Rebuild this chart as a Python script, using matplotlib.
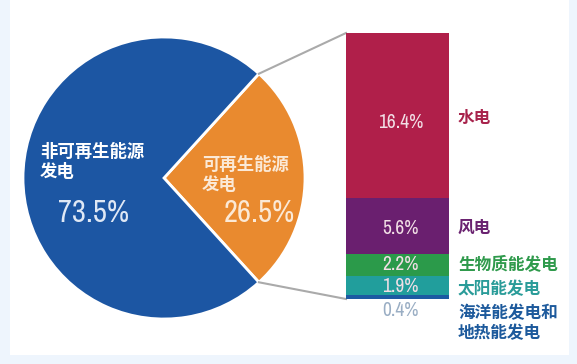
import matplotlib.pyplot as plt
from matplotlib.patches import Rectangle
import numpy as np

plt.rcParams['font.family'] = ['Noto Sans CJK SC', 'DejaVu Sans']

# main pie: renewable vs non-renewable
pie_labels = ['可再生能源\n发电', '非可再生能源\n发电']
pie_values = [26.5, 73.5]
pie_colors = ['#e98a2f', '#1c56a3']

# breakdown of renewable share
bar_labels = ['水电', '风电', '生物质能发电', '太阳能发电', '海洋能发电和\n地热能发电']
bar_values = [16.4, 5.6, 2.2, 1.9, 0.4]
bar_colors = ['#b01f4a', '#6a1f6f', '#2b9a4a', '#219e9c', '#1c5aa2']
label_colors = ['#a8234c', '#6a2270', '#2f9a4c', '#2a9c99', '#1d5a9c']

fig = plt.figure(figsize=(5.77, 3.64), dpi=100)
fig.patch.set_facecolor('#eef5fd')
ax = fig.add_axes([0, 0, 1, 1])
ax.add_patch(Rectangle((10, 0), 559, 355, facecolor='white', edgecolor='none', zorder=0))

# pie, orange slice centred on the right
cx, cy, r = 164, 178, 141
half = pie_values[0] / 100 * 360 / 2
ax.pie(pie_values, colors=pie_colors, startangle=-half, center=(cx, cy), radius=r,
       wedgeprops=dict(edgecolor='white', linewidth=2), frame=True)
ax.set_xlim(0, 577)
ax.set_ylim(364, 0)
ax.set_aspect('equal')
ax.axis('off')

# stacked bar
bx, bw, btop = 346, 103, 33
scale = 266 / sum(bar_values)
tops = btop + np.concatenate([[0], np.cumsum(bar_values)[:-1]]) * scale
heights = np.array(bar_values) * scale
ax.bar(bx, heights, bottom=tops, width=bw, align='edge', color=bar_colors, zorder=2)

# connector lines
ang = np.radians(half)
ax.plot([cx + r * np.cos(ang), bx], [cy - r * np.sin(ang), btop], color='#aaaaaa', lw=1.5, zorder=1)
ax.plot([cx + r * np.cos(ang), bx], [cy + r * np.sin(ang), btop + heights.sum()], color='#aaaaaa', lw=1.5, zorder=1)

num_font = ['Archivo Narrow', 'DejaVu Sans']
# bar value and category labels
label_y = [118, 228, 264, 289, 304]
num_y = [122, 228, 265, 287, 310]
for i, v in enumerate(bar_values):
    col = '#f2dfe6' if i < 4 else '#9aaec4'
    ax.text(bx + bw / 2 + 3, num_y[i], f'{v}%', ha='center', va='center', fontsize=14,
            color=col, family=num_font, zorder=3)
    ax.text(458, label_y[i], bar_labels[i], ha='left', va='center' if i < 4 else 'top',
            fontsize=12, fontweight='bold', color=label_colors[i], linespacing=1.15)

# pie labels
ax.text(40, 162, pie_labels[1], ha='left', va='center', fontsize=12.5, fontweight='bold',
        color='white', linespacing=1.2)
ax.text(58, 213, f'{pie_values[1]}%', ha='left', va='center', fontsize=22, color='#dfe8f5', family=num_font)
ax.text(202, 175, pie_labels[0], ha='left', va='center', fontsize=12.5, fontweight='bold',
        color='#fbe9d6', linespacing=1.2)
ax.text(224, 213, f'{pie_values[0]}%', ha='left', va='center', fontsize=22, color='#fbe9d6', family=num_font)

fig.savefig('out.png', dpi=100, facecolor=fig.get_facecolor())
